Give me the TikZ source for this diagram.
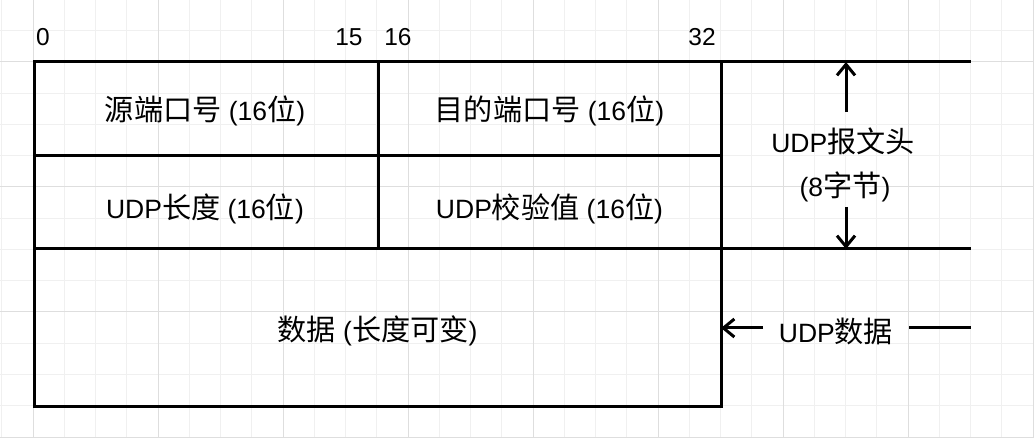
\documentclass[tikz,border=0pt]{standalone}
\usepackage{fontspec}
\setmainfont{Liberation Sans}
\newfontfamily\cjk{Noto Sans CJK SC}[Scale=1.1]
\usetikzlibrary{arrows.meta}
\newcommand{\zh}[1]{{\cjk #1}}
\begin{document}
\begin{tikzpicture}[x=1pt,y=-1pt,
  minorgrid/.style={draw=black!6, line width=1pt},
  majorgrid/.style={draw=black!13, line width=1pt},
  frame/.style={draw=black, line width=3pt},
  lbl/.style={font=\fontsize{26.5}{31}\selectfont, inner sep=0pt},
  bitlbl/.style={font=\fontsize{24.5}{28}\selectfont, inner sep=0pt},
  arr/.style={draw=black, line width=3pt, -{Straight Barb[length=11pt,width=18pt]}},
  plain/.style={draw=black, line width=3pt}
]
\useasboundingbox (0,0) rectangle (1034,438);
\fill[white] (0,0) rectangle (1034,438);
% grid
\foreach \i in {-1,...,32} {
  \draw[minorgrid] ({33+31.25*\i},0) -- ({33+31.25*\i},438);
}
\foreach \j in {-2,...,12} {
  \draw[minorgrid] (0,{62+31.25*\j}) -- (1034,{62+31.25*\j});
}
\foreach \i in {0,...,8} {
  \draw[majorgrid] ({33+125*\i},0) -- ({33+125*\i},438);
}
\foreach \j in {0,...,3} {
  \draw[majorgrid] (0,{62+125*\j}) -- (1034,{62+125*\j});
}
% frame
\coordinate (tl) at (34,62);
\coordinate (tm) at (378,62);
\coordinate (tr) at (721,62);
\coordinate (ml1) at (34,156);
\coordinate (mr1) at (721,156);
\coordinate (ml2) at (34,249);
\coordinate (mm2) at (378,249);
\coordinate (mr2) at (721,249);
\coordinate (br) at (721,406);
\coordinate (ext1) at (971,62);
\coordinate (ext2) at (971,249);
\draw[frame] (tl) rectangle (br);
\draw[frame] (ml1) -- (mr1);
\draw[frame] (ml2) -- (mr2);
\draw[frame] (tm) -- (mm2);
\draw[plain] (tr) -- (ext1);
\draw[plain] (mr2) -- (ext2);
% bit labels
\node[bitlbl] (b0) at (43,37) {0};
\node[bitlbl] (b15) at (349,37) {15};
\node[bitlbl] (b16) at (398,37) {16};
\node[bitlbl] (b32) at (702,37) {32};
% cells
\node[lbl] (src) at (205,111) {\zh{源端口号} (16\zh{位})};
\node[lbl] (dst) at (549.5,111) {\zh{目的端口号} (16\zh{位})};
\node[lbl] (len) at (205,209) {UDP\zh{长度} (16\zh{位})};
\node[lbl] (chk) at (549.5,209) {UDP\zh{校验值} (16\zh{位})};
\node[lbl] (data) at (377.5,331) {\zh{数据} (\zh{长度可变})};
% header annotation
\node[lbl] (hdr1) at (843,141) {UDP\zh{报文头}};
\node[lbl] (hdr2) at (845,187) {(8\zh{字节})};
\coordinate (up0) at (846,112);
\coordinate (up1) at (846,62);
\coordinate (dn0) at (846,207);
\coordinate (dn1) at (846,249);
\draw[arr] (up0) -- (up1);
\draw[arr] (dn0) -- (dn1);
% data annotation
\node[lbl] (udpd) at (836,331) {UDP\zh{数据}};
\coordinate (da0) at (763,328);
\coordinate (da1) at (721,328);
\coordinate (db0) at (909,328);
\coordinate (db1) at (971,328);
\draw[arr] (da0) -- (da1);
\draw[plain] (db0) -- (db1);
\end{tikzpicture}
\end{document}
